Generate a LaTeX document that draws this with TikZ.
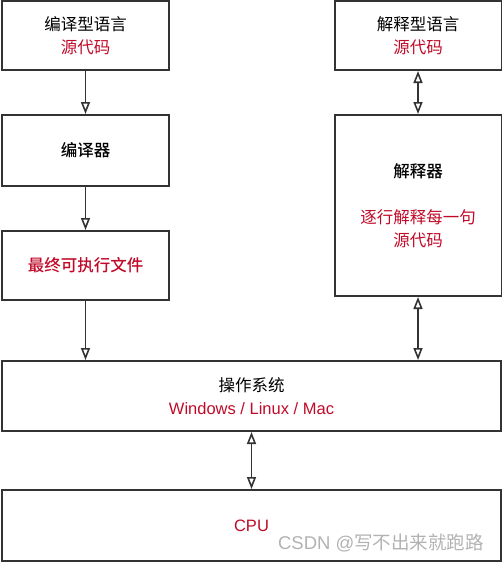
\documentclass[tikz,border=0pt]{standalone}
\usepackage{fontspec}
\setmainfont{Noto Sans CJK SC}[BoldFont={Noto Sans CJK SC Medium}]
\newfontfamily\latin{Liberation Sans}
\usetikzlibrary{arrows.meta}
\definecolor{srcred}{HTML}{C00A28}
\definecolor{edge}{HTML}{333333}
\tikzset{every picture/.style={line width=0.75pt}}
\tikzset{
  box/.style={draw=edge,line width=2pt,minimum width=167pt,align=center,inner sep=0pt,
    font=\fontsize{16.5}{23}\selectfont},
  wide/.style={box,minimum width=499pt},
  flow/.style={draw=edge,line width=1.6pt,-{Triangle[open,width=9pt,length=12pt]}},
  both/.style={draw=edge,line width=1.6pt,{Triangle[open,width=9pt,length=12pt]}-{Triangle[open,width=9pt,length=12pt]}}
}
\begin{document}
\begin{tikzpicture}[x=1pt,y=-1pt]
				\useasboundingbox (0,0) rectangle (502,562);
				% 左：编译
				\node[box,minimum height=69pt] (src1) at (85.5,35.5) {编译型语言\\\textcolor{srcred}{源代码}};
				\node[box,minimum height=71pt] (compiler) at (85.5,150.5) {\textbf{编译器}};
				\node[box,minimum height=69pt] (exe) at (85.5,265.5) {\textcolor{srcred}{\textbf{最终可执行文件}}};
				% 右：解释
				\node[box,minimum height=69pt] (src2) at (418,35.5) {解释型语言\\\textcolor{srcred}{源代码}};
				\node[box,minimum height=181pt] (interp) at (418,205.5) {\textbf{解释器}\\[23pt]\textcolor{srcred}{逐行解释每一句}\\\textcolor{srcred}{源代码}};
				% 下
				\node[wide,minimum height=70pt] (os) at (251.5,396) {操作系统\\\textcolor{srcred}{\latin Windows / Linux / Mac}};
				\node[wide,minimum height=71pt] (cpu) at (251.5,525.5) {\textcolor{srcred}{\latin CPU}};
				\draw[flow] (src1)--(compiler);
				\draw[flow] (compiler)--(exe);
				\draw[flow] (exe.south)--(exe.south|-os.north);
				\draw[both] (src2)--(interp);
				\draw[both] (interp.south)--(interp.south|-os.north);
				\draw[both] (os)--(cpu);
				\node[text=gray!60,font=\fontsize{18.5}{18.5}\selectfont] (mark) at (381,543) {{\latin CSDN @}写不出来就跑路};
			\end{tikzpicture}
\end{document}
